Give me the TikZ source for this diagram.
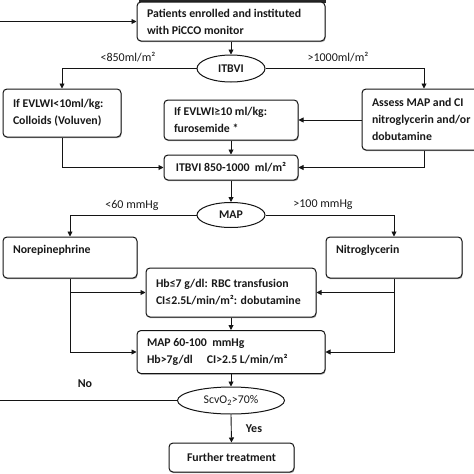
\documentclass[tikz,border=0pt]{standalone}
\usepackage{fontspec}
\setmainfont{Carlito}
\usepackage{xcolor}
\usepackage{tikz}
\usetikzlibrary{shapes.geometric, arrows.meta, positioning, shadows}
\definecolor{linecolor}{RGB}{20,20,20}
\definecolor{textcolor}{RGB}{25,25,25}

\begin{document}
\begin{tikzpicture}[
    x=1pt, y=-1pt,
    box/.style={draw=linecolor, line width=1pt, rounded corners=4pt, fill=white,
        drop shadow={shadow xshift=0.6pt, shadow yshift=-1.2pt, fill=black!70},
        align=flush left, inner xsep=10pt, inner ysep=0pt, text=textcolor,
        font=\fontsize{11.8pt}{17pt}\selectfont\bfseries},
    cbox/.style={box, align=flush center, inner xsep=2pt},
    decision/.style={draw=linecolor, line width=1pt, ellipse, fill=white, inner sep=0pt,
        text=textcolor, font=\fontsize{11.8pt}{15pt}\selectfont\bfseries},
    lbl/.style={text=textcolor, font=\fontsize{12pt}{14pt}\selectfont},
    arrow/.style={-{Triangle[length=5pt, width=5pt]}, line width=0.9pt, linecolor},
    line/.style={line width=0.9pt, linecolor}
]
    \useasboundingbox (0,0) rectangle (474,474);
    \fill[black!85] (139,0) rectangle (326,3);

    % Start
    \node[box, text width=168pt, minimum height=39pt] (start) at (231,21.5)
        {Patients enrolled and instituted\\with PiCCO monitor};
    \coordinate (inL) at (0,21.5);
    \node[decision, minimum width=68pt, minimum height=27pt] (itbvi) at (231,68.5) {ITBVI};

    % ITBVI branches
    \node[box, text width=98pt, minimum height=48pt] (colloid) at (62,113)
        {If EVLWI<10ml/kg:\\Colloids (Voluven)};
    \node[box, text width=114pt, minimum height=40pt] (furo) at (231,120)
        {If EVLWI≥10 ml/kg:\\furosemide *};
    \node[box, text width=104pt, minimum height=61pt] (assess) at (424,119.5)
        {Assess MAP and CI\\nitroglycerin and/or\\dobutamine};
    \node[cbox, text width=130pt, minimum height=25pt] (target) at (231,167.5)
        {ITBVI 850-1000~ ml/m²};

    % MAP branches
    \node[decision, minimum width=68pt, minimum height=25pt] (map) at (231,215) {MAP};
    \node[box, text width=114pt, minimum height=41pt] (norepi) at (70,257.5)
        {Norepinephrine\\~};
    \node[box, text width=116pt, minimum height=41pt] (nitro) at (394,257.5)
        {Nitroglycerin\\~};
    \node[box, text width=150pt, minimum height=49pt] (rbc) at (231,292.5)
        {Hb≤7 g/dl: RBC transfusion\\CI≤2.5L/min/m²: dobutamine};
    \node[box, text width=168pt, minimum height=43pt] (goal) at (231,352)
        {MAP 60-100~ mmHg\\Hb>7g/dl\hspace{14pt}CI>2.5 L/min/m²};

    % ScvO2 check
    \node[decision, minimum width=107pt, minimum height=27pt, font=\fontsize{11.8pt}{14pt}\selectfont]
        (scvo) at (231,400.5) {ScvO\textsubscript{2}>70\%};
    \coordinate (outL) at (0,400.5);
    \node[cbox, text width=121pt, minimum height=29pt] (further) at (231.5,457.5)
        {Further treatment};

    % Labels
    \node[lbl] (lblow) at (128,57) {<850ml/m²};
    \node[lbl] (lbhigh) at (338,57) {>1000ml/m²};
    \node[lbl] (lmlow) at (132,205) {<60 mmHg};
    \node[lbl] (lmhigh) at (323,205) {>100 mmHg};
    \node[lbl, font=\fontsize{12pt}{14pt}\selectfont\bfseries] (lno) at (85,384) {No};
    \node[lbl, font=\fontsize{12pt}{14pt}\selectfont\bfseries] (lyes) at (254,429) {Yes};

    % Arrows
    \draw[arrow] (inL) -- (start.west);
    \draw[arrow] (start.south) -- (itbvi.north);
    \draw[arrow] (itbvi.west) -| (colloid.north);
    \draw[arrow] (itbvi.east) -| (assess.north);
    \draw[arrow] (assess.west |- furo.east) -- (furo.east);
    \draw[arrow] (furo.south) -- (target.north);
    \draw[arrow] (colloid.south) |- (target.west);
    \draw[arrow] (assess.south) |- (target.east);
    \draw[arrow] (target.south) -- (map.north);
    \draw[arrow] (map.west) -| (norepi.north);
    \draw[arrow] (map.east) -| (nitro.north);
    \draw[arrow] (norepi.south) |- (goal.west);
    \draw[arrow] (norepi.south |- rbc.west) -- (rbc.west);
    \draw[arrow] (nitro.south) |- (goal.east);
    \draw[arrow] (nitro.south |- rbc.east) -- (rbc.east);
    \draw[arrow] (rbc.south) -- (goal.north);
    \draw[arrow] (goal.south) -- (scvo.north);
    \draw[line] (scvo.west) -- (outL);
    \draw[arrow] (scvo.south) -- (further.north);
\end{tikzpicture}
\end{document}
